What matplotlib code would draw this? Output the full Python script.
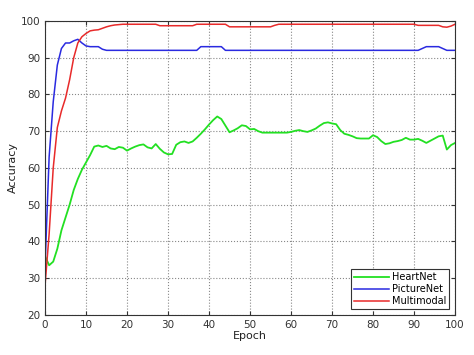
import numpy as np
import matplotlib
matplotlib.use("Agg")
import matplotlib.pyplot as plt

# ---- data ----
epochs = np.arange(0, 101)

heartnet = [36, 33.5, 34.5, 38, 43, 46.5, 50, 54, 57, 59.5,
            61.5, 63.5, 65.8, 66.1, 65.7, 66, 65.3, 65.1, 65.7, 65.5,
            64.7, 65.3, 65.8, 66.2, 66.4, 65.6, 65.3, 66.5, 65.2, 64.2,
            63.7, 63.8, 66.3, 67, 67.2, 66.8, 67.2, 68.2, 69.3, 70.5,
            71.8, 73, 74, 73.3, 71.5, 69.7, 70.2, 70.8, 71.6, 71.4,
            70.5, 70.6, 70, 69.6, 69.6, 69.6, 69.6, 69.6, 69.6, 69.6,
            69.8, 70.1, 70.3, 70, 69.8, 70.2, 70.7, 71.5, 72.2, 72.4,
            72.1, 71.9, 70.3, 69.3, 69, 68.6, 68.1, 68, 68, 68,
            68.9, 68.4, 67.3, 66.5, 66.7, 67.1, 67.3, 67.6, 68.2, 67.7,
            67.7, 67.9, 67.4, 66.8, 67.4, 68, 68.6, 68.8, 65, 66.2,
            66.8]

picturenet = ([33, 63, 78, 88, 92.5, 94, 94, 94.6, 95, 94,
               93.2, 93, 93, 93, 92.3] + [92] * 23 + [93] * 6 + [92] * 48
              + [92.5, 93, 93, 93, 93, 92.5, 92, 92, 92])

multimodal = ([28, 42, 60, 71, 75.5, 79, 84, 90, 94, 95.7,
               96.6, 97.3, 97.5, 97.6, 98, 98.4, 98.7, 98.9, 99]
              + [99.1] * 9 + [98.7] * 9 + [99.1] * 8 + [98.4] * 11
              + [98.8] + [99.1] * 34 + [98.8] * 6 + [98.4, 98.3, 98.6, 99.1])

fig = plt.figure(figsize=(4.74, 3.55), dpi=100)
ax = fig.add_axes([0.095, 0.113, 0.865, 0.828])

ax.plot(epochs, heartnet, color="#22e022", linewidth=1.3, label="HeartNet")
ax.plot(epochs, picturenet, color="#2a2ae0", linewidth=1.1, label="PictureNet")
ax.plot(epochs, multimodal, color="#e82a2a", linewidth=1.1, label="Multimodal")

ax.set_xlim(0, 100)
ax.set_ylim(20, 100)
ax.set_xticks(np.arange(0, 101, 10))
ax.set_yticks(np.arange(20, 101, 10))
ax.grid(True, linestyle=":", color="#888888", linewidth=0.8)
ax.tick_params(direction="in", top=True, right=True, labelsize=7.5,
               length=3, colors="#333333", labelcolor="#333333")
for s in ax.spines.values():
    s.set_color("#333333")
    s.set_linewidth(0.8)

ax.set_xlabel("Epoch", fontsize=8, color="#222222", labelpad=1)
ax.set_ylabel("Accuracy", fontsize=8, color="#222222", labelpad=2)

leg = ax.legend(loc="lower right", fontsize=7, handlelength=3.6,
                fancybox=False, edgecolor="#333333", framealpha=1,
                borderpad=0.3, labelspacing=0.2, handletextpad=0.3,
                borderaxespad=0.6)
leg.get_frame().set_linewidth(0.8)

fig.savefig("out.png", dpi=100)
